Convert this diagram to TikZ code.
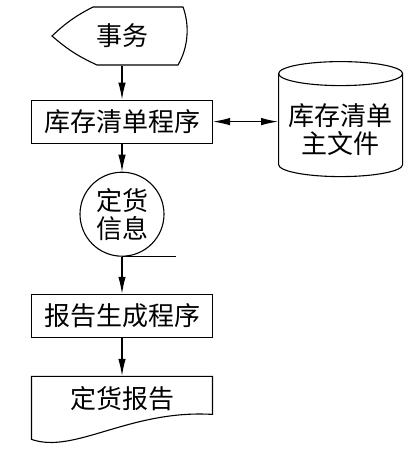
\documentclass[tikz,border=0pt]{standalone}
\usepackage{fontspec}
\setmainfont{Noto Sans CJK SC}
\usetikzlibrary{shapes,arrows.meta,positioning,calc}

\begin{document}
\begin{tikzpicture}[
    x=1pt, y=1pt,
    node distance=30pt,
    line width=1.1pt,
    >={Latex[length=17pt,width=7.5pt]},
    font=\fontsize{26}{28}\selectfont,
    box/.style={rectangle, draw, minimum width=181pt, minimum height=43pt, inner sep=2pt},
    plain/.style={rectangle, inner sep=0pt, align=center}
]
    \useasboundingbox (0,0) rectangle (412,-452);

    % Stages
    \node[plain, minimum width=136pt, minimum height=58pt] (trans) at (122,-36) {事务};
    \node[box, below=34pt of trans] (prog1) {库存清单程序};
    \node[plain, minimum width=124pt, minimum height=60pt, right=65pt of prog1, yshift=-8pt] (master) {库存清单\\主文件};
    \node[circle, draw, minimum size=84pt, inner sep=0pt, align=center, below=28pt of prog1] (info) {定货\\信息};
    \node[box, below=37pt of info] (prog2) {报告生成程序};
    \node[plain, minimum width=181pt, minimum height=44pt, below=38pt of prog2] (report) {定货报告};

    % Outlines
    \draw ($(trans)+(-70,0)$) to[bend left=8] ($(trans)+(-29,29)$) -- ($(trans)+(61,29)$)
        .. controls ($(trans)+(68,10)$) and ($(trans)+(66,-12)$) .. ($(trans)+(56,-29)$)
        -- ($(trans)+(-25,-29)$) to[bend left=8] ($(trans)+(-70,0)$) -- cycle;
    \draw ($(master)+(-62,56)$) -- ($(master)+(-62,-35)$)
        arc[start angle=180, end angle=360, x radius=62pt, y radius=12pt] -- ($(master)+(62,56)$);
    \draw ($(master)+(0,56)$) ellipse[x radius=62pt, y radius=12pt];
    \draw ($(report)+(-90.5,-41)$) -- ($(report)+(-90.5,22)$) -- ($(report)+(90.5,22)$) -- ($(report)+(90.5,-16)$)
        .. controls ($(report)+(7.5,-11)$) and ($(report)+(-47.5,-56)$) .. ($(report)+(-90.5,-41)$) -- cycle;
    \draw (info.south) -- ++(54,0);

    % Edges
    \draw[->] (trans) -- (prog1);
    \draw[<->] (prog1) -- (prog1 -| master.west);
    \draw[->] (prog1) -- (info);
    \draw[->] (info) -- (prog2);
    \draw[->] (prog2) -- (report);
\end{tikzpicture}
\end{document}
